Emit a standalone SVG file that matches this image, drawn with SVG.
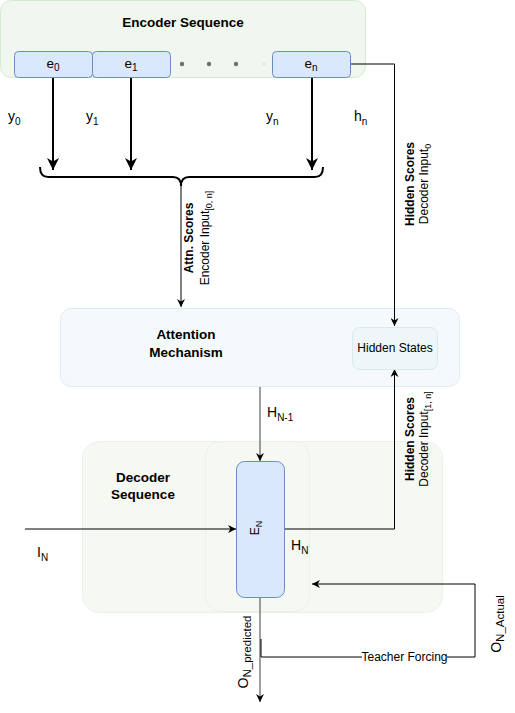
<svg xmlns="http://www.w3.org/2000/svg" width="515" height="713" viewBox="0 0 515 713">
<style>
text{font-family:"Liberation Sans",Arial,Helvetica,sans-serif;fill:#000}
.title{font-size:13.5px;font-weight:bold}
.lbl{font-size:14px}
.sm{font-size:12px}
.b{font-weight:bold}
.et{font-size:13.5px}
.enc{fill:#f0f7ee;stroke:#d8e9d3;stroke-width:1}
.att{fill:#f4fafb;stroke:#dcecef;stroke-width:1}
.hs{fill:#eef6f7;stroke:#d8eaed;stroke-width:1}
.dec{fill:#f6f8f4;stroke:#ebf1e8;stroke-width:1}
.box{fill:#dae8fc;stroke:#6c8ebf;stroke-width:1}
.c{fill:none;stroke:#000;stroke-width:1}
.g{fill:none;stroke:#6b6b6b;stroke-width:1.3}
.thick{fill:none;stroke:#000;stroke-width:2}
</style>
<defs>
<marker id="a" markerUnits="userSpaceOnUse" viewBox="0 0 8 8" markerWidth="8" markerHeight="8" refX="8" refY="4" orient="auto">
<path d="M0,0 L8,4 L0,8 L2.4,4 z" fill="#000"/>
</marker>
<marker id="A" markerUnits="userSpaceOnUse" viewBox="0 0 12 12" markerWidth="12" markerHeight="12" refX="12" refY="6" orient="auto">
<path d="M0,0 L12,6 L0,12 L3.5,6 z" fill="#000"/>
</marker>
</defs>

<g id="encoder-sequence">
<rect class="enc" x="0.5" y="0.5" width="365" height="77" rx="11"/>
<text class="title" x="183" y="27" text-anchor="middle">Encoder Sequence</text>
<circle cx="182" cy="64" r="2.2" fill="#707070"/>
<circle cx="209" cy="64" r="2.2" fill="#707070"/>
<circle cx="236" cy="64" r="2.2" fill="#707070"/>
<circle cx="264" cy="64" r="2" fill="#e6e6e6"/>
</g>

<g id="attention-mechanism">
<rect class="att" x="60.5" y="308.5" width="399" height="78" rx="11"/>
<text class="title" x="186" y="339" text-anchor="middle">Attention</text>
<text class="title" x="186" y="357" text-anchor="middle">Mechanism</text>
</g>

<g id="decoder-sequence">
<rect class="dec" x="82.5" y="441.5" width="360" height="171" rx="17"/>
<rect class="dec" x="205.5" y="441.5" width="104" height="170" rx="15"/>
<text class="title" x="143" y="482" text-anchor="middle">Decoder</text>
<text class="title" x="143" y="499" text-anchor="middle">Sequence</text>
</g>

<g id="connectors">
<line class="thick" x1="53" y1="78" x2="53" y2="170" marker-end="url(#A)"/>
<line class="thick" x1="131" y1="78" x2="131" y2="170" marker-end="url(#A)"/>
<line class="thick" x1="312" y1="78" x2="312" y2="170" marker-end="url(#A)"/>
<path class="thick" d="M40,167 Q40,177 48,177 L173,177 Q181,177 181,186 Q181,177 189,177 L315,177 Q323,177 323,167" stroke-width="2.5"/>
<line class="c" x1="181" y1="186" x2="181" y2="307" marker-end="url(#a)"/>
<path class="c" d="M350,64 L394.5,64 L394.5,326" marker-end="url(#a)"/>
<line class="g" x1="260" y1="387" x2="260" y2="461" marker-end="url(#a)"/>
<line class="c" x1="25" y1="529" x2="236" y2="529" marker-end="url(#a)"/>
<path class="c" d="M284,529 L394.5,529 L394.5,369" marker-end="url(#a)"/>
<line class="g" x1="260" y1="597" x2="260" y2="702" marker-end="url(#a)"/>
<path class="c" d="M261,639 L261,657 L475,657 L475,584 L312,584" marker-end="url(#a)"/>
</g>

<g id="e0">
<rect class="box" x="14.5" y="51.5" width="78" height="26" rx="4"/>
<text class="et" x="53" y="68" text-anchor="middle">e<tspan font-size="10" dy="3">0</tspan></text>
</g>
<g id="e1">
<rect class="box" x="92.5" y="51.5" width="78" height="26" rx="4"/>
<text class="et" x="131" y="68" text-anchor="middle">e<tspan font-size="10" dy="3">1</tspan></text>
</g>
<g id="en">
<rect class="box" x="272.5" y="51.5" width="78" height="26" rx="4"/>
<text class="et" x="311" y="68" text-anchor="middle">e<tspan font-size="10" dy="3">n</tspan></text>
</g>

<g id="hidden-states">
<rect class="hs" x="352.5" y="327.5" width="85" height="42" rx="7"/>
<text class="sm" x="395" y="352" text-anchor="middle">Hidden States</text>
</g>

<g id="EN">
<rect class="box" x="236.5" y="461.5" width="48" height="136" rx="8"/>
<text class="sm" transform="translate(259,528) rotate(-90)" text-anchor="middle">E<tspan font-size="9" dy="3">N</tspan></text>
</g>

<g id="labels">
<text class="lbl" x="8" y="121">y<tspan font-size="10" dy="4">0</tspan></text>
<text class="lbl" x="86" y="121">y<tspan font-size="10" dy="4">1</tspan></text>
<text class="lbl" x="266" y="121">y<tspan font-size="10" dy="4">n</tspan></text>
<text class="lbl" x="354" y="121">h<tspan font-size="10" dy="4">n</tspan></text>
<text class="sm b" transform="translate(193,238) rotate(-90)" text-anchor="middle">Attn. Scores</text>
<text class="sm" transform="translate(209,238) rotate(-90)" text-anchor="middle">Encoder Input<tspan font-size="9" dy="3">[0, n]</tspan></text>
<text class="sm b" transform="translate(414,184) rotate(-90)" text-anchor="middle">Hidden Scores</text>
<text class="sm" transform="translate(428,184) rotate(-90)" text-anchor="middle">Decoder Input<tspan font-size="9" dy="3">0</tspan></text>
<text class="sm b" transform="translate(414,439) rotate(-90)" text-anchor="middle">Hidden Scores</text>
<text class="sm" transform="translate(428,439) rotate(-90)" text-anchor="middle">Decoder Input<tspan font-size="9" dy="3">[1, n]</tspan></text>
<text class="lbl" x="267" y="417">H<tspan font-size="10" dy="4">N-1</tspan></text>
<text class="lbl" x="291" y="550">H<tspan font-size="10" dy="4">N</tspan></text>
<text class="lbl" x="37" y="557">I<tspan font-size="10" dy="4">N</tspan></text>
<rect x="362" y="650" width="85" height="14" fill="#fff"/>
<text class="sm" x="404.5" y="661" text-anchor="middle">Teacher Forcing</text>
<text class="lbl" transform="translate(248,652) rotate(-90)" text-anchor="middle">O<tspan font-size="11.5" dy="3">N_predicted</tspan></text>
<text class="lbl" transform="translate(501,624) rotate(-90)" text-anchor="middle">O<tspan font-size="11.5" dy="3">N_Actual</tspan></text>
</g>
</svg>
